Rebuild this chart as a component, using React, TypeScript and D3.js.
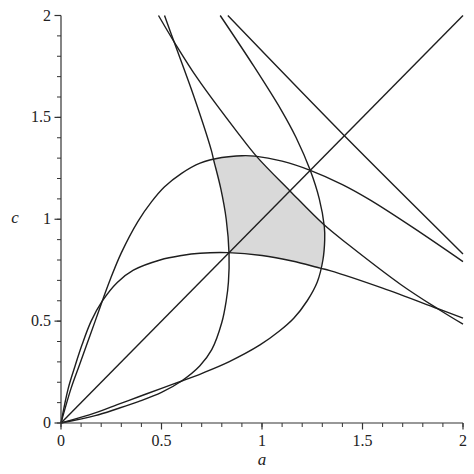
import React from "react";
import * as d3 from "d3";

type P = [number, number];

const majorTicks = [0, 0.5, 1, 1.5, 2];
const tickLabels = ["0", "0.5", "1", "1.5", "2"];
const xTitle = "a";
const yTitle = "c";

const diagonal: P[] = [[0, 0], [2, 2]];
const straightLine: P[] = [[0.83, 2], [1.41, 1.41], [2, 0.83]];
const curveD: P[] = [
  [0.485, 2.0], [0.562, 1.872], [0.68, 1.69], [0.876, 1.429], [0.975, 1.306],
  [1.139, 1.139], [1.306, 0.975], [1.429, 0.876], [1.69, 0.68], [1.872, 0.562], [2.0, 0.485],
];
const curveB1: P[] = [
  [0, 0], [0.036, 0.17], [0.07, 0.28], [0.105, 0.385], [0.15, 0.5], [0.205, 0.598],
  [0.28, 0.69], [0.36, 0.75], [0.493, 0.8], [0.6, 0.822], [0.692, 0.833], [0.831, 0.836],
  [1.0, 0.822], [1.15, 0.795], [1.289, 0.76], [1.338, 0.748], [1.6, 0.662], [1.872, 0.562], [2.0, 0.515],
];
const curveB2: P[] = [
  [0, 0], [0.17, 0.036], [0.28, 0.07], [0.385, 0.105], [0.5, 0.15], [0.598, 0.205],
  [0.69, 0.28], [0.75, 0.36], [0.8, 0.493], [0.822, 0.6], [0.833, 0.692], [0.836, 0.831],
  [0.822, 1.0], [0.795, 1.15], [0.76, 1.289], [0.748, 1.338], [0.662, 1.6], [0.562, 1.872], [0.515, 2.0],
];
const curveC1: P[] = [
  [0, 0], [0.05, 0.17], [0.09, 0.28], [0.13, 0.39], [0.17, 0.5], [0.205, 0.598],
  [0.244, 0.702], [0.3, 0.835], [0.383, 0.99], [0.45, 1.085], [0.514, 1.158], [0.6, 1.225],
  [0.692, 1.275], [0.8, 1.303], [0.9, 1.312], [0.965, 1.31], [1.1, 1.285], [1.24, 1.24],
  [1.4, 1.17], [1.537, 1.095], [1.75, 0.96], [2.0, 0.792],
];
const curveC2: P[] = [
  [0, 0], [0.17, 0.05], [0.28, 0.09], [0.39, 0.13], [0.5, 0.17], [0.598, 0.205],
  [0.702, 0.244], [0.835, 0.3], [0.99, 0.383], [1.085, 0.45], [1.158, 0.514], [1.225, 0.6],
  [1.275, 0.692], [1.303, 0.8], [1.312, 0.9], [1.31, 0.965], [1.285, 1.1], [1.24, 1.24],
  [1.17, 1.4], [1.095, 1.537], [0.96, 1.75], [0.792, 2.0],
];

const W = 474;
const H = 474;
const x = d3.scaleLinear().domain([0, 2]).range([61, 463]);
const y = d3.scaleLinear().domain([0, 2]).range([423, 15.5]);

const line = d3
  .line<P>()
  .x((d) => x(d[0]))
  .y((d) => y(d[1]))
  .curve(d3.curveCatmullRom.alpha(0.5));

const closeWith = (pts: P[], extra: P[]) =>
  (line(pts) || "") + extra.map((p) => `L${x(p[0])},${y(p[1])}`).join("") + "Z";

const curves = [diagonal, straightLine, curveD, curveB1, curveB2, curveC1, curveC2];

export default function App() {
  const minor = x.ticks(20);
  const font = "'Liberation Serif', 'Times New Roman', serif";
  const stroke = "#1e1e1e";
  const clips = [
    closeWith(curveC1, [[2, 0]]),
    closeWith(curveD, [[2, 0], [0, 0], [0, 2]]),
    closeWith(curveC2, [[0, 2]]),
    closeWith(curveB1, [[2, 2], [0, 2]]),
    closeWith(curveB2, [[2, 2], [2, 0]]),
  ];
  const shaded = clips.reduceRight<React.ReactNode>(
    (child, _d, i) => <g clipPath={`url(#clip${i})`}>{child}</g>,
    <rect x={x(0)} y={y(2)} width={x(2) - x(0)} height={y(0) - y(2)} fill="#d9d9d9" />
  );
  return (
    <svg width={W} height={H} style={{ position: "absolute", left: 0, top: 0, background: "#fff" }}>
      <defs>
        {clips.map((d, i) => (
          <clipPath key={i} id={`clip${i}`}>
            <path d={d} />
          </clipPath>
        ))}
      </defs>
      {shaded}
      {curves.map((c, i) => (
        <path key={i} d={line(c) || ""} fill="none" stroke={stroke} strokeWidth={1.4} />
      ))}
      <line x1={x(0)} x2={x(2)} y1={y(0)} y2={y(0)} stroke="#333" strokeWidth={1.2} />
      <line x1={x(0)} x2={x(0)} y1={y(0)} y2={y(2)} stroke="#333" strokeWidth={1.2} />
      {minor.map((t) => (
        <g key={"m" + t}>
          <line x1={x(t)} x2={x(t)} y1={y(0)} y2={y(0) + 4} stroke="#333" strokeWidth={1} />
          <line x1={x(0)} x2={x(0) - 4} y1={y(t)} y2={y(t)} stroke="#333" strokeWidth={1} />
        </g>
      ))}
      {majorTicks.map((t, i) => (
        <g key={"M" + t}>
          <line x1={x(t)} x2={x(t)} y1={y(0)} y2={y(0) + 6.5} stroke="#333" strokeWidth={1.2} />
          <line x1={x(0)} x2={x(0) - 6.5} y1={y(t)} y2={y(t)} stroke="#333" strokeWidth={1.2} />
          <text x={x(t)} y={446} textAnchor="middle" fontFamily={font} fontSize={16} fill="#222">
            {tickLabels[i]}
          </text>
          <text x={51} y={y(t) + 5} textAnchor="end" fontFamily={font} fontSize={16} fill="#222">
            {tickLabels[i]}
          </text>
        </g>
      ))}
      <text x={x(1)} y={465} textAnchor="middle" fontFamily={font} fontStyle="italic" fontSize={17} fill="#222">
        {xTitle}
      </text>
      <text x={15} y={y(1) + 4} textAnchor="middle" fontFamily={font} fontStyle="italic" fontSize={17} fill="#222">
        {yTitle}
      </text>
    </svg>
  );
}
